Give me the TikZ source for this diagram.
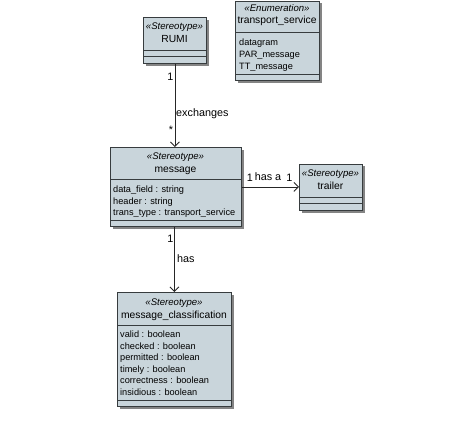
\documentclass[tikz,border=0pt]{standalone}
\usepackage{fontspec}
\setmainfont{Liberation Sans}
\usetikzlibrary{arrows.meta,shadows}
\definecolor{clsfill}{RGB}{201,213,219}
\definecolor{clsline}{RGB}{55,60,62}
\begin{document}
\begin{tikzpicture}[x=1pt,y=-1pt,
  cls/.style={draw=clsline,fill=clsfill,line width=0.9pt,inner sep=0pt,anchor=north west,
    drop shadow={shadow xshift=2.5pt,shadow yshift=-2.5pt,fill=black!60,opacity=0.8}},
  sepline/.style={draw=clsline,line width=0.9pt},
  stereo/.style={font=\fontsize{9.6}{10}\selectfont\itshape,inner sep=0pt,text height=7pt,text depth=2pt},
  cname/.style={font=\fontsize{10.3}{12}\selectfont,inner sep=0pt,text height=7.5pt,text depth=2.2pt},
  attr/.style={font=\fontsize{9.2}{10}\selectfont,inner sep=0pt,anchor=west,text height=7pt,text depth=2pt},
  lbl/.style={font=\fontsize{10.8}{12}\selectfont,inner sep=0pt,text height=7.5pt,text depth=2pt},
  assoc/.style={draw=black!85,line width=0.9pt,-{Straight Barb[length=4.5pt,width=9pt,line width=0.9pt]}}]
\useasboundingbox (0,0) rectangle (474,423);
\fill[white] (0,0) rectangle (474,423);

% RUMI
\node[cls,minimum width=63pt,minimum height=46pt] (rumi) at (143,17) {};
\draw[sepline] (143,50) -- (206,50);
\draw[sepline] (143,56.5) -- (206,56.5);
\node[stereo] (rumist) at (174.5,27) {«Stereotype»};
\node[cname] (ruminame) at (174.5,40) {RUMI};

% transport_service
\node[cls,minimum width=84pt,minimum height=79.5pt] (ts) at (235,0.5) {};
\draw[sepline] (235,32) -- (319,32);
\draw[sepline] (235,74) -- (319,74);
\node[stereo] (tsst) at (277,8.5) {«Enumeration»};
\node[cname] (tsname) at (277,20.5) {transport\_service};
\node[attr] (ts1) at (239,43) {datagram};
\node[attr] (ts2) at (239,55) {PAR\_message};
\node[attr] (ts3) at (239,66.5) {TT\_message};

% message
\node[cls,minimum width=131pt,minimum height=79pt] (msg) at (110,147) {};
\draw[sepline] (110,179) -- (241,179);
\draw[sepline] (110,220) -- (241,220);
\node[stereo] (msgst) at (175.5,157) {«Stereotype»};
\node[cname] (msgname) at (175.5,170) {message};
\node[attr] (msg1) at (113,190) {data\_field : string};
\node[attr] (msg2) at (113,201.5) {header : string};
\node[attr] (msg3) at (113,212.5) {trans\_type : transport\_service};

% trailer
\node[cls,minimum width=63pt,minimum height=46.5pt] (tr) at (299,163.5) {};
\draw[sepline] (299,197) -- (362,197);
\draw[sepline] (299,203.5) -- (362,203.5);
\node[stereo] (trst) at (330.5,174) {«Stereotype»};
\node[cname] (trname) at (330.5,187) {trailer};

% message_classification
\node[cls,minimum width=114pt,minimum height=114pt] (mc) at (117,292) {};
\draw[sepline] (117,325) -- (231,325);
\draw[sepline] (117,400) -- (231,400);
\node[stereo] (mcst) at (174,303) {«Stereotype»};
\node[cname] (mcname) at (174,316) {message\_classification};
\node[attr] (mc1) at (120,335) {valid : boolean};
\node[attr] (mc2) at (120,346.5) {checked : boolean};
\node[attr] (mc3) at (120,358) {permitted : boolean};
\node[attr] (mc4) at (120,369.5) {timely : boolean};
\node[attr] (mc5) at (120,381) {correctness : boolean};
\node[attr] (mc6) at (120,392.5) {insidious : boolean};

% connectors
\draw[assoc] (rumi.south) -- (rumi.south |- msg.north);
\draw[assoc] (msg.east) -- (msg.east -| tr.west);
\draw[assoc] (msg.south -| mc.north) -- (mc.north);

% labels
\node[lbl] (l1) at (170.5,78) {1};
\node[lbl,anchor=west] (l2) at (176,114) {exchanges};
\node[lbl] (l3) at (171,131) {*};
\node[lbl] (l4) at (250,179) {1};
\node[lbl] (l5) at (268,177.5) {has a};
\node[lbl] (l6) at (289.5,179) {1};
\node[lbl] (l7) at (170.5,240) {1};
\node[lbl,anchor=west] (l8) at (177,260) {has};
\end{tikzpicture}
\end{document}
